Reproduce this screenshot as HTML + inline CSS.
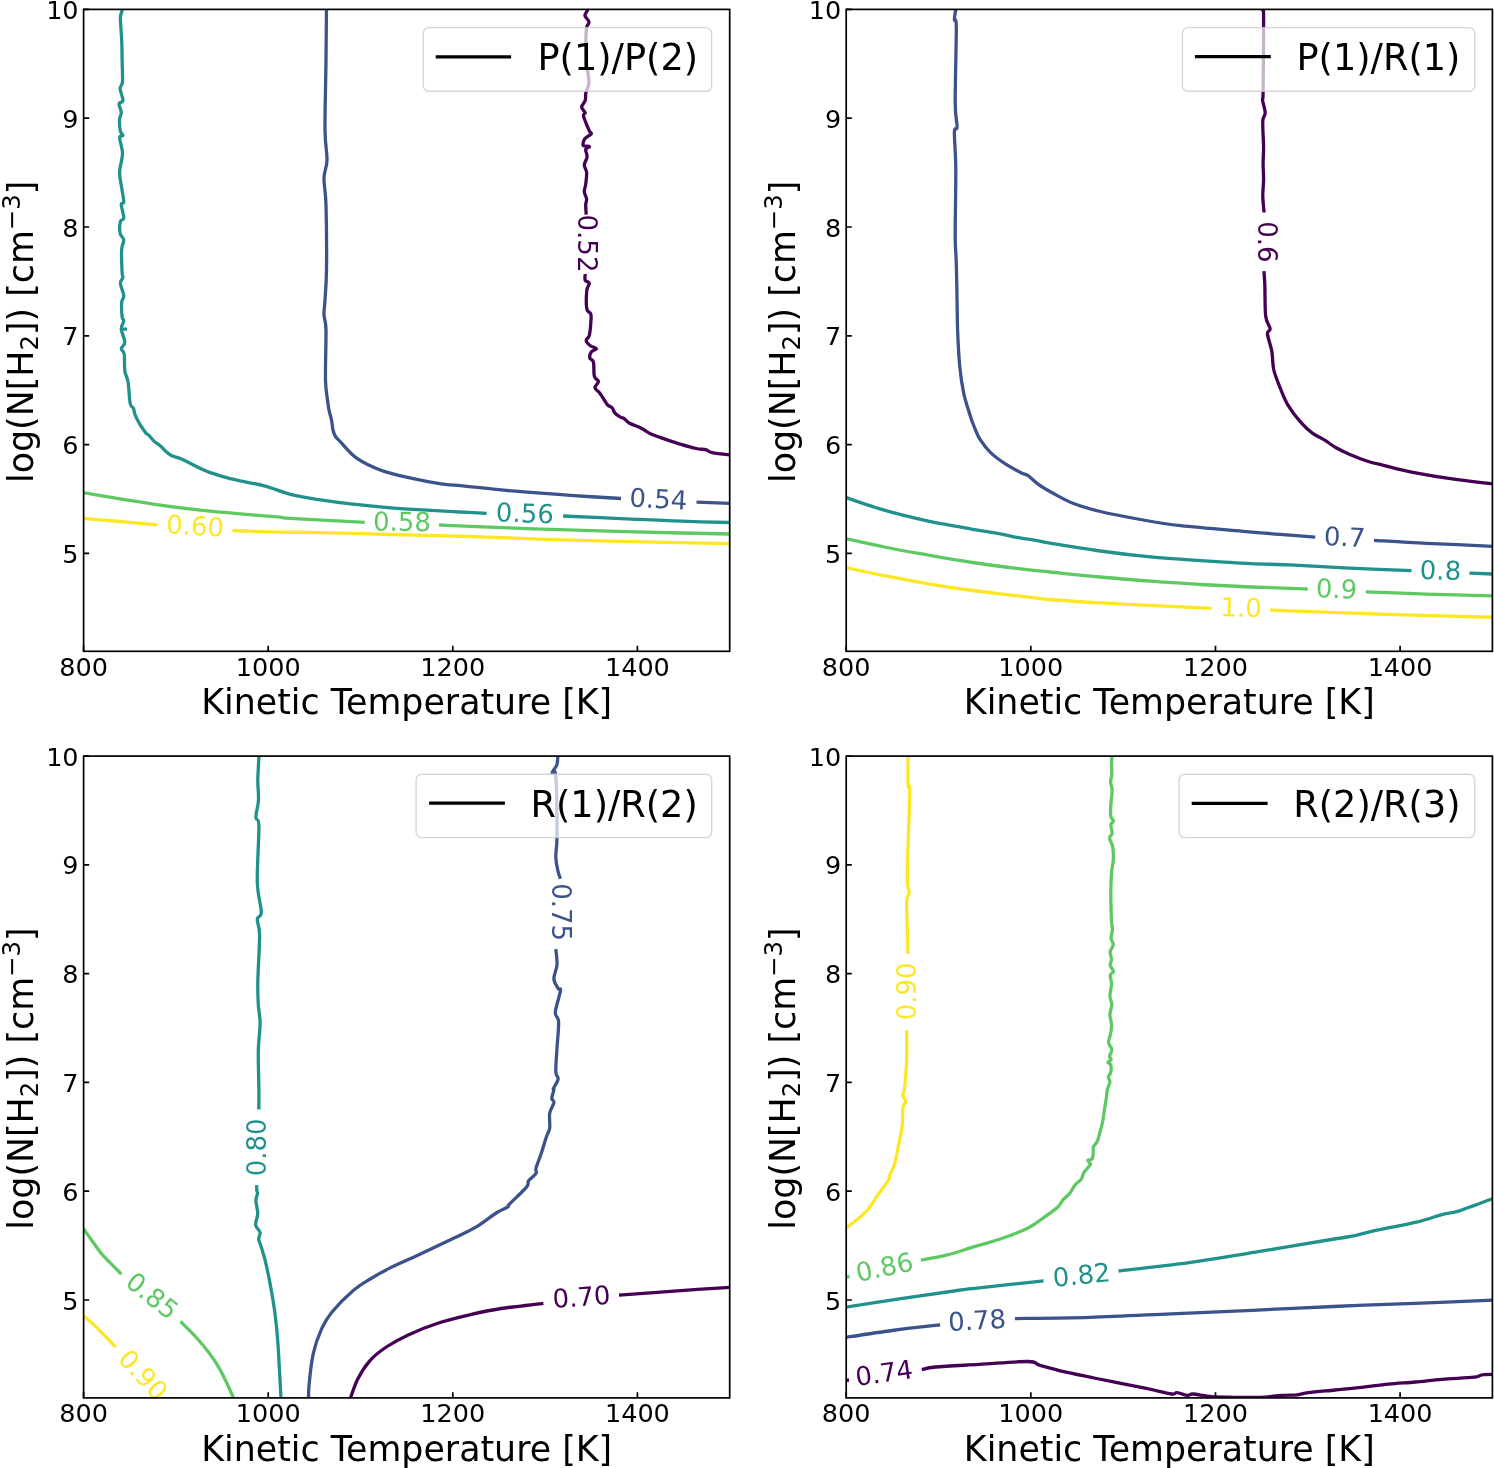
<!DOCTYPE html>
<html><head><meta charset="utf-8"><title>Contour ratios</title>
<style>html,body{margin:0;padding:0;background:#fff;}svg{display:block;}text{font-family:'DejaVu Sans', 'Liberation Sans', sans-serif;}</style>
</head><body>
<svg width="1494" height="1468" viewBox="0 0 1494 1468">
<rect x="0" y="0" width="1494" height="1468" fill="#fff"/>
<defs>
<clipPath id="cp1"><rect x="83.6" y="9.4" width="646.1" height="641.9"/></clipPath>
<clipPath id="cp2"><rect x="846.2" y="9.4" width="646.2" height="641.9"/></clipPath>
<clipPath id="cp3"><rect x="83.6" y="756.1" width="646.1" height="641.8"/></clipPath>
<clipPath id="cp4"><rect x="846.2" y="756.1" width="646.2" height="641.8"/></clipPath>
</defs>
<g clip-path="url(#cp1)" fill="none" stroke-width="3.3" stroke-linejoin="round" stroke-linecap="butt">
<path stroke="#21918c" d="M122.1,5C122.1,5.9 122.4,8.2 122.1,10.2C121.8,12.2 120.6,14.4 120.4,17C120.2,19.6 120.6,21.2 120.8,25.5C121,29.8 121.6,36.9 121.8,42.6C122,48.3 122,53.1 122.1,59.6C122.2,66.1 122.8,76.9 122.5,81.7C122.2,86.5 120,85.5 120.1,88.6C120.2,91.7 123.2,98 123,100.5C122.8,103 119.3,101.9 119,103.9C118.7,105.9 121.2,109.9 121.3,112.4C121.4,115 119.8,116.1 119.6,119.2C119.4,122.3 119.8,128.5 120.4,131.2C121,133.9 123.1,134.3 123,135.4C122.9,136.5 119.7,135 119.6,138C119.5,141 122.5,147.6 122.5,153.3C122.5,159 119.8,166.3 119.6,172C119.4,177.7 120.9,182.3 121.6,187.3C122.3,192.3 123.8,199 123.8,201.8C123.8,204.7 121.3,201.7 121.3,204.4C121.3,207.1 123.9,215.2 123.8,218C123.7,220.8 121,218.8 120.4,221.4C119.8,224 119.5,230.2 120.1,233.3C120.6,236.4 123.5,237.2 123.7,240C124,242.8 121.9,244.4 121.6,249.8C121.3,255.2 121.9,268.1 122.1,272.7C122.3,277.3 123.2,275.8 122.9,277.6C122.6,279.4 120.3,280.3 120.4,283.3C120.5,286.3 123.5,292.5 123.7,295.6C123.9,298.7 122,298.6 121.7,302.1C121.4,305.6 121.8,313.7 122.1,316.8C122.4,319.9 123.8,318.8 123.7,320.9C123.6,322.9 121.1,325.6 121.3,329.1C121.5,332.7 124.8,338.9 124.8,342.2C124.8,345.5 121.4,346.7 121.3,348.7C121.2,350.7 123.6,350.7 124.2,354.4C124.8,358.1 124.2,366.2 124.8,370.8C125.4,375.4 127.2,376.8 128.1,382.2C129,387.6 129.3,399.1 130.2,403.5C131.1,407.9 132.7,406.5 133.5,408.4C134.3,410.3 134,412.2 135.1,414.9C136.2,417.6 138.3,421.7 140.1,424.7C141.9,427.7 144.3,431.1 145.8,432.9C147.3,434.7 147.6,434 149,435.4C150.4,436.8 152.1,439.3 154,441.1C155.9,442.9 158.6,444.4 160.5,446C162.4,447.6 163.5,449.3 165.4,450.9C167.3,452.5 169.1,454.4 171.9,455.8C174.7,457.2 177.3,457.1 182,459.2C186.7,461.3 195.4,466 200.1,468.2C204.8,470.4 205.2,470.9 210.2,472.6C215.2,474.3 221.2,476.4 230.2,478.6C239.2,480.8 254.3,483.3 264.4,485.9C274.4,488.5 281.1,492 290.5,494.3C299.9,496.6 310.6,498.3 320.6,499.9C330.6,501.5 339,502.6 350.7,503.9C362.4,505.2 377.5,506.7 390.9,507.8C404.3,508.9 419.5,509.7 431,510.4C442.5,511.1 450.7,511.5 460,512C469.3,512.5 482.2,513.1 486.7,513.3"/>
<path stroke="#21918c" d="M563.1,516C573.5,516.5 606.1,517.9 625.7,518.8C645.3,519.7 662.7,520.6 680.9,521.2C699.1,521.8 726,522.4 735,522.6"/>
<path stroke="#21918c" d="M121.3,329.1 L127,329.1"/>
<path stroke="#3b528b" d="M326.5,5C326.4,14.2 326.2,39.2 326,60C325.8,80.8 324.8,113.3 325,130C325.2,146.7 327.2,152 327,160C326.8,168 324.2,170.5 324,178C323.8,185.5 325.6,189.7 326,205C326.4,220.3 326.7,254.2 326.5,270C326.3,285.8 325.4,292.5 325,300C324.6,307.5 323.8,310 324,315C324.2,320 325.8,319.2 326,330C326.2,340.8 325.2,368.3 325.5,380C325.8,391.7 326.9,395 327.5,400C328.1,405 328.3,406.7 329,410C329.7,413.3 330.8,416.7 331.5,420C332.2,423.3 332.3,427.2 333,430C333.7,432.8 334.2,434.5 335.5,436.5C336.8,438.5 337.2,438.5 340.7,442.1C344.2,445.7 350,453.5 356.7,458.2C363.4,462.9 371.8,466.9 380.8,470.2C389.9,473.5 400.9,475.9 411,478.2C421.1,480.5 432.9,482.7 441.1,483.9C449.3,485.1 447.6,484.4 460,485.6C472.4,486.8 496.8,489.6 515.2,491.2C533.6,492.8 552.8,494.2 570.4,495.4C588,496.6 612.6,498 621,498.5"/>
<path stroke="#3b528b" d="M696.5,502.2 L735,503.6"/>
<path stroke="#440154" d="M587.4,5C587.4,5.9 587.8,8.4 587.4,10.2C587,12 584.7,13.8 585,15.7C585.3,17.6 588.7,19.9 589,21.9C589.3,23.8 587.1,24.3 586.6,27.4C586.1,30.5 586,34.8 585.9,40.7C585.8,46.6 585.8,55.9 586.3,62.7C586.8,69.5 589,76.7 589,81.5C589,86.3 586.8,89.3 586.2,91.4C585.7,93.5 585.9,92.7 585.7,94.2C585.5,95.7 585.9,98.4 585.2,100.6C584.5,102.8 581.6,105.1 581.6,107.1C581.6,109.1 584.9,111.2 585.2,112.6C585.5,114 583.2,113.6 583.4,115.4C583.6,117.2 585.2,121 586.2,123.6C587.2,126.2 588.6,129.3 589.4,131C590.2,132.7 591.9,132.6 591.2,133.8C590.5,135 586.5,137 585.2,138.4C583.9,139.8 583.7,140.8 583.4,142C583.1,143.2 582.4,144.9 583.4,145.7C584.4,146.5 589,146 589.4,146.6C589.8,147.2 586.1,147.7 585.7,149.4C585.3,151.1 587.3,154.2 587.1,156.8C586.9,159.4 584.4,162.4 584.3,165C584.2,167.6 586.4,169.2 586.6,172.4C586.8,175.6 586.1,181.2 585.7,184.4C585.3,187.6 584.1,189.2 584.3,191.7C584.4,194.1 586.4,196.9 586.6,199.1C586.8,201.2 585.8,202 585.7,204.6C585.6,207.2 586.1,213 586.2,214.7"/>
<path stroke="#440154" d="M585.2,274.1C585.2,275.1 584.5,278.7 585.2,280.2C585.9,281.7 589,281.6 589.3,283.3C589.6,285 587.2,286.1 586.8,290.4C586.4,294.7 586.1,305 586.8,308.9C587.5,312.8 590.1,311.6 590.8,314C591.5,316.4 591,319.6 590.8,323.2C590.5,326.8 590.1,332.5 589.3,335.4C588.5,338.3 586,338.9 586.2,340.6C586.4,342.3 588.6,344.4 590.3,345.7C592,347 596.3,347.7 596.5,348.7C596.7,349.7 592.5,350.3 591.4,351.8C590.3,353.3 589.5,356.2 589.8,357.9C590.1,359.6 592.6,358.9 593.4,362C594.2,365.1 593.5,373.1 594.4,376.3C595.2,379.6 598.4,379.6 598.5,381.5C598.6,383.4 594.7,385.7 594.9,387.6C595.1,389.5 598,390.8 599.5,392.7C601,394.6 602.2,396.8 603.6,398.8C605,400.9 606.2,403.5 607.7,405C609.2,406.5 611.1,406.6 612.3,408C613.5,409.4 613.5,411.5 614.9,413.1C616.3,414.7 619.3,416.5 620.9,417.4C622.5,418.3 622.8,417.7 624.2,418.6C625.6,419.5 626.3,421.4 629.2,423C632.1,424.6 638.2,426.7 641.8,428.5C645.4,430.3 647.2,432.2 651,433.9C654.8,435.6 659.4,437.1 664.4,438.9C669.4,440.6 675.8,442.8 681.1,444.4C686.4,446 692,447.6 696.2,448.5C700.4,449.4 703.6,449.1 706.2,449.8C708.9,450.5 707.3,451.7 712.1,452.7C716.9,453.7 731.2,455.1 735,455.6"/>
<path stroke="#5ec962" d="M78,491.8C85,493 106.5,496.6 120.2,498.8C133.9,501 146.9,503.2 160.3,505.1C173.7,507 187.1,508.7 200.5,510.2C213.9,511.7 227.3,512.8 240.6,513.9C253.8,515 271.7,516.4 280,517.1C288.3,517.9 276.4,517.5 290.5,518.4C304.6,519.3 352.4,521.7 364.8,522.4"/>
<path stroke="#5ec962" d="M439.1,525C444.2,525.2 454.2,525.8 470,526.4C485.8,527 507.7,528 533.6,528.9C559.6,529.8 592.1,530.8 625.7,531.7C659.3,532.6 716.8,533.7 735,534.1"/>
<path stroke="#fde725" d="M78,518C85,518.6 106.9,520.4 120.2,521.5C133.5,522.6 151.4,524.3 157.6,524.9"/>
<path stroke="#fde725" d="M232.6,530.5C240.5,530.8 267,531.9 280,532.2C293,532.5 292.1,532 310.6,532.4C329.1,532.8 364.3,533.8 390.9,534.5C417.5,535.2 443.1,535.6 470,536.5C496.9,537.4 523,538.7 552,539.6C581,540.5 613.5,541.1 644,541.8C674.5,542.5 719.8,543.4 735,543.7"/>
</g>
<text transform="translate(587,243.5) rotate(90)" x="0" y="9.5" text-anchor="middle" font-size="26.0" fill="#440154">0.52</text>
<text transform="translate(658.4,498.6) rotate(3)" x="0" y="9.5" text-anchor="middle" font-size="26.0" fill="#3b528b">0.54</text>
<text transform="translate(524.9,512.8) rotate(2.2)" x="0" y="9.5" text-anchor="middle" font-size="26.0" fill="#21918c">0.56</text>
<text transform="translate(402,521.4) rotate(0.8)" x="0" y="9.5" text-anchor="middle" font-size="26.0" fill="#5ec962">0.58</text>
<text transform="translate(195.2,525.5) rotate(3.3)" x="0" y="9.5" text-anchor="middle" font-size="26.0" fill="#fde725">0.60</text>
<path d="M83.6,651.3V645.7M268.2,651.3V645.7M452.8,651.3V645.7M637.4,651.3V645.7M83.6,553.4H89.2M83.6,444.6H89.2M83.6,335.8H89.2M83.6,227H89.2M83.6,118.2H89.2M83.6,9.4H89.2" stroke="#000" stroke-width="1.7" fill="none"/>
<rect x="83.6" y="9.4" width="646.1" height="641.9" fill="none" stroke="#000" stroke-width="1.7" stroke-linejoin="miter"/>
<text x="83.6" y="675.8" text-anchor="middle" font-size="25.5">800</text>
<text x="268.2" y="675.8" text-anchor="middle" font-size="25.5">1000</text>
<text x="452.8" y="675.8" text-anchor="middle" font-size="25.5">1200</text>
<text x="637.4" y="675.8" text-anchor="middle" font-size="25.5">1400</text>
<text x="78.6" y="562.9" text-anchor="end" font-size="25.5">5</text>
<text x="78.6" y="454.1" text-anchor="end" font-size="25.5">6</text>
<text x="78.6" y="345.3" text-anchor="end" font-size="25.5">7</text>
<text x="78.6" y="236.5" text-anchor="end" font-size="25.5">8</text>
<text x="78.6" y="127.7" text-anchor="end" font-size="25.5">9</text>
<text x="78.6" y="18.9" text-anchor="end" font-size="25.5">10</text>
<text x="406.7" y="714.3" text-anchor="middle" font-size="34.8">Kinetic Temperature [K]</text>
<text transform="translate(32.5,331.8) rotate(-90)" x="0" y="0" text-anchor="middle" font-size="34.8">log(N[H<tspan font-size="24.4" dy="5">2</tspan><tspan dy="-5">]) [cm</tspan><tspan font-size="24.4" dy="-12.7">−3</tspan><tspan dy="12.7">]</tspan></text>
<rect x="423.3" y="27.6" width="288.3" height="63.7" rx="5.6" ry="5.6" fill="#fff" fill-opacity="0.7" stroke="#cccccc" stroke-opacity="0.8" stroke-width="1.4"/>
<line x1="435.7" y1="56.8" x2="511.1" y2="56.8" stroke="#000" stroke-width="3.3"/>
<text x="537.5" y="70.2" font-size="36.7">P(1)/P(2)</text>
<g clip-path="url(#cp2)" fill="none" stroke-width="3.3" stroke-linejoin="round" stroke-linecap="butt">
<path stroke="#3b528b" d="M955.8,5C955.8,5.7 956,6.6 955.8,9C955.6,11.4 954.3,16.6 954.4,19.7C954.5,22.8 956.2,13.9 956.3,27.7C956.4,41.5 955.1,86.2 955.2,102.7C955.3,119.2 957.2,121.9 957.1,126.8C957,131.7 954.6,125.1 954.4,132.2C954.2,139.3 955.7,152.2 955.8,169.6C955.9,187 955.1,221 955.2,236.6C955.3,252.2 956,252.2 956.3,263.4C956.6,274.5 956.9,292.4 957.1,303.5C957.3,314.6 957.2,319.4 957.6,330C958,340.6 958.8,356.3 959.8,366.9C960.8,377.5 962.2,386.1 963.8,393.7C965.4,401.3 967.6,407.2 969.2,412.4C970.8,417.6 971.7,420.5 973.5,425C975.3,429.5 977,434.6 979.9,439.2C982.8,443.8 986.1,448.4 990.6,452.6C995.1,456.9 1001.2,461.2 1006.6,464.7C1012,468.2 1019.1,471.7 1022.7,473.5C1026.3,475.3 1025.4,473.7 1028.1,475.6C1030.8,477.5 1034.8,481.8 1038.8,484.7C1042.8,487.6 1046.4,489.7 1052.2,492.8C1058,495.9 1065.6,500.4 1073.6,503.5C1081.6,506.6 1089.1,508.8 1100.3,511.5C1111.5,514.2 1127.1,517.1 1140.5,519.5C1153.9,521.9 1163.1,523.7 1180.7,525.7C1198.3,527.7 1227.8,530 1246,531.6C1264.2,533.2 1278.5,534.2 1290,535.1C1301.5,536 1311.1,536.8 1315.3,537.1"/>
<path stroke="#3b528b" d="M1374,540.3C1382.8,540.8 1405.8,542.3 1426.5,543.3C1447.2,544.3 1486.1,546 1498,546.5"/>
<path stroke="#440154" d="M1262.5,5C1262.5,5.8 1262.3,7.9 1262.5,9.8C1262.7,11.7 1263.5,2.7 1263.6,16.3C1263.7,29.9 1263.3,77.6 1263.1,91.5C1262.9,105.4 1262.2,96.2 1262.5,99.7C1262.8,103.2 1265.2,109.2 1265.2,112.8C1265.2,116.3 1263.1,115.3 1262.8,121C1262.5,126.7 1263.5,140 1263.6,147.1C1263.6,154.2 1263.1,158.1 1263.1,163.5C1263.1,168.9 1263.6,174.4 1263.6,179.8C1263.5,185.2 1262.7,190.8 1262.8,196.2C1262.9,201.6 1263.9,209.8 1264.1,212.5"/>
<path stroke="#440154" d="M1263.9,271.1C1264.1,273.3 1264.5,276.9 1264.8,284.4C1265.1,291.9 1264.8,308.9 1265.7,316.3C1266.6,323.7 1269.8,325.8 1270.1,328.7C1270.4,331.6 1267.2,330.1 1267.5,334C1267.8,337.9 1270.9,345.9 1271.9,351.8C1272.9,357.7 1272.4,363.6 1273.7,369.5C1275,375.4 1277.6,381.3 1279.9,387.2C1282.2,393.1 1284.3,399 1287.8,404.9C1291.3,410.8 1296.9,418 1301.1,422.7C1305.2,427.4 1308.7,430.4 1312.7,433.3C1316.7,436.2 1321.3,438 1325.1,440.4C1328.9,442.8 1331.6,445.1 1335.7,447.5C1339.8,449.9 1344.6,452.2 1349.9,454.5C1355.2,456.8 1361.6,459.3 1367.6,461.2C1373.5,463.1 1378,463.9 1385.6,465.8C1393.1,467.7 1401.5,470.1 1412.9,472.3C1424.3,474.5 1439.6,477.1 1453.8,479.1C1468,481.1 1490.6,483.5 1498,484.4"/>
<path stroke="#21918c" d="M840,495.5C847.4,497.9 869.5,505.9 884.2,510.2C898.9,514.5 915.8,518.4 928.4,521.2C941,524 952.6,525.4 960,526.8C967.4,528.1 966.2,528.2 972.5,529.3C978.8,530.4 990.1,532 997.5,533.4C1004.9,534.8 1009.8,536.1 1016.7,537.4C1023.6,538.6 1033.2,539.9 1038.7,540.9C1044.2,541.9 1039.8,541.5 1050,543.2C1060.2,544.9 1083.5,548.7 1100.2,551C1116.9,553.3 1133.7,555.3 1150.4,556.9C1167.1,558.5 1183.9,559.5 1200.6,560.6C1217.3,561.7 1235.9,562.9 1250.8,563.6C1265.7,564.3 1274.4,564.2 1290,564.9C1305.6,565.6 1324.3,566.9 1344.6,567.9C1364.8,568.9 1400.3,570.1 1411.5,570.6"/>
<path stroke="#21918c" d="M1469.5,573.1 L1498,574.2"/>
<path stroke="#5ec962" d="M840,537.3C847.4,538.9 869.5,544 884.2,547C898.9,550 913.7,552.5 928.4,555.1C943.1,557.7 957.8,560.3 972.5,562.5C987.2,564.7 1003.8,566.8 1016.7,568.4C1029.6,570 1036.1,570.6 1050,572C1063.9,573.4 1083.5,575.5 1100.2,577C1116.9,578.5 1133.7,580 1150.4,581.2C1167.1,582.5 1183.9,583.5 1200.6,584.5C1217.3,585.5 1235.9,586.4 1250.8,587C1265.7,587.6 1280.5,588 1290,588.3C1299.5,588.6 1304.8,588.9 1307.7,589"/>
<path stroke="#5ec962" d="M1365.8,591.8C1375.9,592.2 1404.5,593.4 1426.5,594.1C1448.5,594.8 1486.1,595.7 1498,596"/>
<path stroke="#fde725" d="M840,566.3C847.4,567.9 869.5,572.8 884.2,575.7C898.9,578.6 913.7,581.3 928.4,583.8C943.1,586.3 957.8,588.5 972.5,590.5C987.2,592.5 1003.8,594.1 1016.7,595.6C1029.6,597.1 1036.1,598.3 1050,599.5C1063.9,600.7 1083.5,601.9 1100.2,602.9C1116.9,603.9 1131.9,604.5 1150.4,605.4C1169,606.3 1201.3,607.9 1211.5,608.4"/>
<path stroke="#fde725" d="M1270,610.1C1273.3,610.2 1270.7,610.2 1290,610.9C1309.3,611.6 1350.9,613.2 1385.6,614.3C1420.3,615.4 1479.3,616.9 1498,617.4"/>
</g>
<text transform="translate(1267.5,241.9) rotate(90)" x="0" y="9.5" text-anchor="middle" font-size="26.0" fill="#440154">0.6</text>
<text transform="translate(1344.6,536.5) rotate(3)" x="0" y="9.5" text-anchor="middle" font-size="26.0" fill="#3b528b">0.7</text>
<text transform="translate(1440.5,570) rotate(1.5)" x="0" y="9.5" text-anchor="middle" font-size="26.0" fill="#21918c">0.8</text>
<text transform="translate(1336.7,588.4) rotate(2.8)" x="0" y="9.5" text-anchor="middle" font-size="26.0" fill="#5ec962">0.9</text>
<text transform="translate(1241.2,607.1) rotate(1.7)" x="0" y="9.5" text-anchor="middle" font-size="26.0" fill="#fde725">1.0</text>
<path d="M846.2,651.3V645.7M1030.8,651.3V645.7M1215.5,651.3V645.7M1400.1,651.3V645.7M846.2,553.4H851.8M846.2,444.6H851.8M846.2,335.8H851.8M846.2,227H851.8M846.2,118.2H851.8M846.2,9.4H851.8" stroke="#000" stroke-width="1.7" fill="none"/>
<rect x="846.2" y="9.4" width="646.2" height="641.9" fill="none" stroke="#000" stroke-width="1.7" stroke-linejoin="miter"/>
<text x="846.2" y="675.8" text-anchor="middle" font-size="25.5">800</text>
<text x="1030.8" y="675.8" text-anchor="middle" font-size="25.5">1000</text>
<text x="1215.5" y="675.8" text-anchor="middle" font-size="25.5">1200</text>
<text x="1400.1" y="675.8" text-anchor="middle" font-size="25.5">1400</text>
<text x="841.2" y="562.9" text-anchor="end" font-size="25.5">5</text>
<text x="841.2" y="454.1" text-anchor="end" font-size="25.5">6</text>
<text x="841.2" y="345.3" text-anchor="end" font-size="25.5">7</text>
<text x="841.2" y="236.5" text-anchor="end" font-size="25.5">8</text>
<text x="841.2" y="127.7" text-anchor="end" font-size="25.5">9</text>
<text x="841.2" y="18.9" text-anchor="end" font-size="25.5">10</text>
<text x="1169.3" y="714.3" text-anchor="middle" font-size="34.8">Kinetic Temperature [K]</text>
<text transform="translate(795.1,331.8) rotate(-90)" x="0" y="0" text-anchor="middle" font-size="34.8">log(N[H<tspan font-size="24.4" dy="5">2</tspan><tspan dy="-5">]) [cm</tspan><tspan font-size="24.4" dy="-12.7">−3</tspan><tspan dy="12.7">]</tspan></text>
<rect x="1182.4" y="27.6" width="292.3" height="63.7" rx="5.6" ry="5.6" fill="#fff" fill-opacity="0.7" stroke="#cccccc" stroke-opacity="0.8" stroke-width="1.4"/>
<line x1="1194.9" y1="56.7" x2="1270.8" y2="56.7" stroke="#000" stroke-width="3.3"/>
<text x="1296.5" y="70.2" font-size="36.7">P(1)/R(1)</text>
<g clip-path="url(#cp3)" fill="none" stroke-width="3.3" stroke-linejoin="round" stroke-linecap="butt">
<path stroke="#21918c" d="M258.9,750C258.9,751.2 259.1,752 258.9,757C258.7,762 257.9,772.9 257.8,780.1C257.7,787.3 258.8,793.8 258.5,800C258.2,806.2 255.8,812.8 255.9,817.2C256,821.6 258.7,815.6 258.9,826.4C259.1,837.2 256.9,867.7 257.3,882C257.7,896.3 261.3,905.9 261.3,912.1C261.3,918.3 257.6,915.2 257.3,919.1C257,923 259.5,924.9 259.6,935.3C259.7,945.7 258,970 257.8,981.6C257.6,993.2 257.9,997.8 258.3,1004.7C258.7,1011.7 260.1,1015.6 260.1,1023.3C260.1,1031 258.5,1040 258.3,1051.1C258.1,1062.2 258.8,1080.3 258.9,1090C259,1099.7 258.8,1106.2 258.8,1109.4"/>
<path stroke="#21918c" d="M256.6,1185.2C256.7,1186.2 256.7,1189.8 256.9,1191.2C257.1,1192.6 257.8,1192 257.6,1193.5C257.4,1195 255.9,1197.5 255.9,1200.2C255.9,1203 257.1,1207.5 257.4,1210C257.7,1212.5 257.9,1212.7 257.6,1215.2C257.3,1217.7 255.3,1222.1 255.7,1225C256.1,1227.9 259.6,1230.1 260.1,1232.5C260.6,1234.9 258.5,1236.7 258.7,1239.2C258.9,1241.7 260.4,1244.2 261.4,1247.5C262.4,1250.8 263.6,1254.3 264.7,1258.7C265.8,1263.1 267,1268.6 268.1,1273.7C269.2,1278.8 270,1283.4 271.1,1289.4C272.2,1295.5 273.4,1301.3 274.5,1310C275.6,1318.7 276.7,1325.9 277.8,1341.6C278.9,1357.3 280.7,1393.6 281.3,1404"/>
<path stroke="#3b528b" d="M558.1,750C557.9,752.4 558,760.5 557,764.3C556,768.1 552.4,770.7 552.2,772.7C552,774.7 555,765.7 555.8,776.2C556.6,786.7 557,822.3 557,835.8C557,849.3 555.6,851.3 555.8,857.3C556,863.3 557.3,868 558.1,871.6C558.9,875.2 560.1,877.6 560.5,878.8"/>
<path stroke="#3b528b" d="M555.8,949.1C556,951.7 557.3,959.6 557,964.6C556.7,969.6 553.7,974.9 553.9,978.9C554.1,982.9 557,986.4 558.1,988.4C559.2,990.4 561,986.8 560.5,990.8C560,994.8 555.6,1007.1 555.3,1012.3C555,1017.5 558.3,1015.8 558.6,1021.8C558.9,1027.8 557.5,1039.7 557,1048C556.5,1056.3 555.6,1066.7 555.8,1071.9C556,1077.1 558.5,1076.2 558.1,1079C557.7,1081.8 554.1,1086.8 553.4,1088.6C552.7,1090.4 554.2,1088.4 553.9,1090C553.6,1091.6 551.8,1096.3 551.8,1098.4C551.8,1100.5 554.2,1100.2 553.9,1102.7C553.5,1105.2 550.4,1109 549.7,1113.2C549,1117.4 550.2,1124.1 549.7,1128C549.2,1131.9 547.9,1132.3 546.5,1136.5C545.1,1140.7 543,1148 541.3,1153.3C539.5,1158.6 536.9,1164.8 536,1168.1C535.1,1171.4 537.2,1171.3 536,1173.4C534.8,1175.5 530.2,1178.5 528.6,1180.8C527,1183.1 529.7,1183.2 526.5,1187.1C523.3,1191 512.8,1200.7 509.6,1204C506.4,1207.3 509.6,1205.8 507.5,1207.2C505.4,1208.6 502.2,1209.2 496.9,1212.5C491.6,1215.8 482.8,1223 475.8,1227.2C468.8,1231.4 464.6,1233 454.7,1237.8C444.8,1242.6 427.6,1250.7 416.7,1255.8C405.8,1260.9 396.9,1264.5 389.2,1268.4C381.4,1272.3 376.2,1275.3 370.2,1279C364.2,1282.7 359.6,1285.1 353.3,1290.6C347,1296 337.5,1305.4 332.2,1311.7C326.9,1318 324.9,1321.6 321.7,1328.6C318.5,1335.6 315.3,1344.4 313.2,1353.9C311.1,1363.4 309.8,1377.2 309,1385.6C308.2,1393.9 308.6,1400.9 308.5,1404"/>
<path stroke="#440154" d="M348.5,1404C350,1399.9 354,1386.6 357.6,1379.3C361.2,1372 365.3,1365.8 370.2,1360.3C375.1,1354.8 380.8,1350.7 387.1,1346.5C393.4,1342.3 399.8,1338.8 408.2,1334.9C416.6,1331 427.6,1326.6 437.8,1323.3C448,1320 458.9,1317.4 469.5,1314.9C480.1,1312.4 488.8,1310.4 501.1,1308.5C513.4,1306.6 536.4,1304.2 543.4,1303.3"/>
<path stroke="#440154" d="M619,1295.2C627.6,1294.5 651.2,1292.7 670.5,1291.3C689.8,1289.9 724.2,1287.7 735,1287"/>
<path stroke="#5ec962" d="M78,1221.5C79,1222.8 81.8,1226.6 83.9,1229.4C86,1232.2 87.6,1234.6 90.4,1238.5C93.2,1242.4 97.5,1248.7 100.7,1252.7C103.9,1256.7 106.3,1258.8 109.8,1262.4C113.2,1266 119.5,1272.1 121.4,1274.1"/>
<path stroke="#5ec962" d="M180.5,1321.5C183,1324 190.7,1331.3 195.4,1336.5C200.1,1341.7 204.8,1347.2 208.8,1352.5C212.8,1357.8 216.4,1363.2 219.5,1368.6C222.6,1374 225.4,1380 227.6,1384.7C229.8,1389.4 231.5,1393.5 232.9,1396.7C234.3,1399.9 235.5,1402.8 236,1404"/>
<path stroke="#fde725" d="M78,1311C79,1311.9 81.4,1314 83.9,1316.2C86.4,1318.4 89.2,1320.5 92.9,1323.9C96.6,1327.4 102.1,1333 105.9,1336.9C109.7,1340.8 114,1345.5 115.6,1347.2"/>
</g>
<text transform="translate(256.5,1147.3) rotate(-90)" x="0" y="9.5" text-anchor="middle" font-size="26.0" fill="#21918c">0.80</text>
<text transform="translate(561.8,912.1) rotate(90)" x="0" y="9.5" text-anchor="middle" font-size="26.0" fill="#3b528b">0.75</text>
<text transform="translate(581.5,1296.5) rotate(-4.2)" x="0" y="9.5" text-anchor="middle" font-size="26.0" fill="#440154">0.70</text>
<text transform="translate(152.5,1295.4) rotate(38.7)" x="0" y="9.5" text-anchor="middle" font-size="26.0" fill="#5ec962">0.85</text>
<text transform="translate(143.4,1374.4) rotate(47)" x="0" y="9.5" text-anchor="middle" font-size="26.0" fill="#fde725">0.90</text>
<path d="M83.6,1397.9V1392.3M268.2,1397.9V1392.3M452.8,1397.9V1392.3M637.4,1397.9V1392.3M83.6,1300H89.2M83.6,1191.2H89.2M83.6,1082.4H89.2M83.6,973.7H89.2M83.6,864.9H89.2M83.6,756.1H89.2" stroke="#000" stroke-width="1.7" fill="none"/>
<rect x="83.6" y="756.1" width="646.1" height="641.8" fill="none" stroke="#000" stroke-width="1.7" stroke-linejoin="miter"/>
<text x="83.6" y="1422.4" text-anchor="middle" font-size="25.5">800</text>
<text x="268.2" y="1422.4" text-anchor="middle" font-size="25.5">1000</text>
<text x="452.8" y="1422.4" text-anchor="middle" font-size="25.5">1200</text>
<text x="637.4" y="1422.4" text-anchor="middle" font-size="25.5">1400</text>
<text x="78.6" y="1309.5" text-anchor="end" font-size="25.5">5</text>
<text x="78.6" y="1200.7" text-anchor="end" font-size="25.5">6</text>
<text x="78.6" y="1091.9" text-anchor="end" font-size="25.5">7</text>
<text x="78.6" y="983.2" text-anchor="end" font-size="25.5">8</text>
<text x="78.6" y="874.4" text-anchor="end" font-size="25.5">9</text>
<text x="78.6" y="765.6" text-anchor="end" font-size="25.5">10</text>
<text x="406.7" y="1460.9" text-anchor="middle" font-size="34.8">Kinetic Temperature [K]</text>
<text transform="translate(32.5,1078.5) rotate(-90)" x="0" y="0" text-anchor="middle" font-size="34.8">log(N[H<tspan font-size="24.4" dy="5">2</tspan><tspan dy="-5">]) [cm</tspan><tspan font-size="24.4" dy="-12.7">−3</tspan><tspan dy="12.7">]</tspan></text>
<rect x="416.1" y="774.3" width="295.6" height="63.3" rx="5.6" ry="5.6" fill="#fff" fill-opacity="0.7" stroke="#cccccc" stroke-opacity="0.8" stroke-width="1.4"/>
<line x1="429.1" y1="803.2" x2="504.9" y2="803.2" stroke="#000" stroke-width="3.3"/>
<text x="530.5" y="816.9" font-size="36.7">R(1)/R(2)</text>
<g clip-path="url(#cp4)" fill="none" stroke-width="3.3" stroke-linejoin="round" stroke-linecap="butt">
<path stroke="#fde725" d="M908.1,750C908.1,751.2 908.1,751.2 908.1,757.2C908.1,763.2 907.8,780.2 908.1,785.8C908.4,791.3 909.8,780.6 909.8,790.5C909.8,800.4 908.5,830.3 908.1,845.4C907.7,860.5 907.2,873.1 907.4,881.1C907.6,889.1 909.2,889.5 909.1,893.1C909,896.7 906.9,892.5 906.7,902.6C906.5,912.7 907.9,945.4 908.1,953.9"/>
<path stroke="#fde725" d="M906.7,1030.2C906.7,1035.2 907,1051.1 906.7,1060C906.4,1068.9 905.4,1078.8 905,1083.8C904.6,1088.8 904.8,1088 904.4,1090C904,1092 902.7,1093.8 902.9,1095.7C903.1,1097.6 905.8,1099.4 905.8,1101.4C905.8,1103.4 903.5,1103.8 902.9,1107.9C902.3,1112 902.9,1119.7 902.2,1125.8C901.5,1131.9 900,1138 898.7,1144.4C897.4,1150.8 896,1159.2 894.4,1164.4C892.8,1169.6 890.4,1173.2 889.4,1175.8C888.4,1178.4 890.6,1176.8 888.6,1180.1C886.6,1183.4 880.5,1191.1 877.2,1195.9C873.9,1200.7 871.9,1204.8 868.6,1208.7C865.3,1212.6 862,1215.5 857.2,1219.5C852.4,1223.5 842.9,1230.3 840,1232.5"/>
<path stroke="#5ec962" d="M1112.1,750C1112.1,751 1112.2,754.1 1112.1,756.1C1112,758.1 1111.5,759.2 1111.5,762.3C1111.5,765.4 1112,771.2 1111.8,774.5C1111.6,777.8 1110.5,779.2 1110.6,781.9C1110.6,784.6 1112.1,786.6 1112.1,790.5C1112.1,794.4 1111,800.9 1110.8,805.2C1110.6,809.5 1110.3,813.6 1110.8,816.2C1111.2,818.9 1113.5,819.7 1113.5,821.1C1113.5,822.5 1111,822.8 1110.8,824.8C1110.6,826.8 1112.3,831.1 1112.1,833.4C1111.9,835.6 1109.5,836 1109.6,838.3C1109.7,840.5 1112.1,843.2 1112.7,846.9C1113.3,850.6 1113.5,856.1 1113.3,860.4C1113.1,864.7 1111.9,867.3 1111.5,872.6C1111.1,877.9 1110.9,886.1 1110.8,892.2C1110.7,898.3 1111,904.5 1111.1,909.4C1111.2,914.3 1111.3,918.3 1111.5,921.7C1111.7,925.1 1112.5,927 1112.4,929.8C1112.3,932.6 1110.9,935.9 1111.1,938.4C1111.2,940.9 1113.4,942.2 1113.3,944.5C1113.2,946.8 1110.5,949.4 1110.2,951.9C1109.9,954.4 1111.5,957 1111.5,959.2C1111.5,961.5 1109.9,963.4 1110.2,965.4C1110.5,967.4 1113.5,969.9 1113.5,971.5C1113.5,973.1 1110.5,973.2 1110.2,975.2C1109.9,977.2 1111.5,980.3 1111.5,983.8C1111.5,987.3 1109.9,992.5 1109.9,996C1110,999.5 1111.8,1001.5 1111.8,1004.6C1111.8,1007.7 1110,1011.1 1109.9,1014.4C1109.9,1017.7 1111.3,1021.1 1111.5,1024.2C1111.7,1027.3 1111.3,1029.7 1110.8,1032.8C1110.3,1035.9 1108.4,1039.8 1108.6,1042.6C1108.8,1045.4 1111.6,1047.2 1111.8,1049.4C1112,1051.7 1109.7,1054.4 1109.6,1056.1C1109.5,1057.8 1111.4,1058.8 1111.1,1059.8C1110.8,1060.8 1107.9,1061.4 1107.8,1062.2C1107.7,1063 1110.1,1063.1 1110.6,1064.7C1111.1,1066.3 1111.2,1070 1110.8,1072.1C1110.4,1074.1 1108.6,1075.4 1108.4,1077C1108.2,1078.6 1110.1,1079.9 1109.9,1081.9C1109.7,1083.9 1108,1086.6 1107.4,1089.2C1106.8,1091.8 1106.9,1094.2 1106.4,1097.5C1105.9,1100.8 1105.2,1104.7 1104.6,1108.7C1104,1112.7 1103.4,1117.9 1102.7,1121.5C1102,1125.1 1101.2,1127.5 1100.4,1130.4C1099.7,1133.3 1098.8,1136.7 1098.2,1138.7C1097.6,1140.7 1097.5,1141 1096.7,1142.4C1095.9,1143.8 1093.9,1145.4 1093.3,1146.9C1092.7,1148.4 1093.5,1149.4 1093.3,1151.4C1093.1,1153.4 1093.1,1157.5 1092.2,1158.9C1091.3,1160.3 1088.7,1159.5 1088.1,1160C1087.5,1160.5 1088.4,1161.2 1088.8,1161.9C1089.2,1162.7 1091.1,1162.8 1090.3,1164.5C1089.5,1166.2 1085.5,1170 1084,1172.4C1082.5,1174.8 1082.8,1177 1081.3,1179.1C1079.8,1181.2 1076.9,1182.7 1075,1185.1C1073.1,1187.5 1071.6,1191 1069.7,1193.4C1067.8,1195.8 1065.4,1197.1 1063.4,1199.4C1061.4,1201.7 1060.8,1204.2 1057.6,1207.2C1054.4,1210.2 1049,1213.8 1044.1,1217.3C1039.2,1220.8 1035.2,1224.5 1028.1,1228C1021,1231.5 1010.6,1235.4 1001.7,1238.5C992.8,1241.6 983.6,1244 974.5,1246.7C965.4,1249.4 956.2,1252.7 947.2,1254.9C938.2,1257.2 925.2,1259.3 920.8,1260.2"/>
<path stroke="#5ec962" d="M849.5,1276.3 L840,1278.5"/>
<path stroke="#21918c" d="M840,1308C851.6,1306.2 889.5,1300.4 909.6,1297.4C929.8,1294.4 949.3,1291.6 960.9,1290C972.5,1288.4 965.4,1289.3 979.2,1287.8C993,1286.3 1032.9,1282.1 1043.6,1280.9"/>
<path stroke="#21918c" d="M1118.5,1271C1128.6,1269.8 1155.8,1267.1 1179.1,1263.9C1202.4,1260.7 1231.8,1255.9 1258.2,1251.7C1284.6,1247.5 1321.5,1241.1 1337.3,1238.5C1353.1,1235.9 1346.6,1237.3 1353.2,1235.9C1359.8,1234.5 1366.4,1232.4 1376.9,1230.1C1387.5,1227.8 1405.5,1224.8 1416.5,1222.2C1427.5,1219.6 1435.8,1216.2 1442.8,1214.3C1449.8,1212.4 1449.4,1214 1458.6,1211.1C1467.8,1208.1 1491.4,1199 1498,1196.6"/>
<path stroke="#3b528b" d="M840,1338.3C848.7,1337 875.5,1332.7 892.2,1330.5C908.9,1328.3 932.1,1325.8 940.1,1324.9"/>
<path stroke="#3b528b" d="M1014.9,1318.6C1027.4,1318.4 1064,1318.1 1090,1317.3C1116,1316.5 1144,1315 1171.1,1313.8C1198.1,1312.6 1225.2,1311.5 1252.3,1310.3C1279.3,1309.1 1306.4,1307.7 1333.4,1306.5C1360.4,1305.3 1387.1,1304.4 1414.5,1303.3C1441.9,1302.2 1484.1,1300.5 1498,1300"/>
<path stroke="#440154" d="M840,1381.2 L849,1380"/>
<path stroke="#440154" d="M921.8,1369.6C924.1,1369.2 926.1,1367.9 935.7,1367C945.3,1366.1 963.8,1365.3 979.2,1364.4C994.6,1363.5 1017.9,1361.3 1028,1361.5C1038.2,1361.7 1033.7,1363.5 1040.1,1365.3C1046.5,1367.1 1057.2,1370.1 1066.2,1372.2C1075.2,1374.3 1084.9,1376.2 1094,1378C1103.1,1379.8 1111.9,1381.5 1120.8,1383.3C1129.7,1385.1 1139,1386.9 1147.5,1388.7C1156,1390.5 1166.7,1393.3 1171.6,1394C1176.5,1394.7 1174.3,1392.5 1177,1392.7C1179.7,1392.9 1185,1395.2 1187.7,1395.4C1190.4,1395.6 1189.1,1393.8 1193.1,1394C1197.1,1394.2 1205.1,1396.2 1211.8,1396.7C1218.5,1397.2 1225.2,1397.2 1233.2,1397.3C1241.2,1397.4 1252,1397.6 1260,1397.3C1268,1397 1275.2,1395.8 1281.4,1395.4C1287.7,1395 1293,1395.2 1297.5,1394.8C1302,1394.3 1302,1393.5 1308.2,1392.7C1314.5,1391.9 1326.1,1390.9 1335,1390C1343.9,1389.1 1352.8,1388.3 1361.7,1387.3C1370.6,1386.3 1379.6,1385 1388.5,1384.1C1397.4,1383.2 1406.4,1382.8 1415.3,1382C1424.2,1381.2 1432.3,1380.1 1442.1,1379.3C1451.9,1378.5 1467.5,1378 1474.2,1377.2C1480.9,1376.5 1478.2,1375.2 1482.2,1374.8C1486.2,1374.3 1495.4,1374.5 1498,1374.5"/>
</g>
<text transform="translate(906.3,991.4) rotate(-90)" x="0" y="9.5" text-anchor="middle" font-size="26.0" fill="#fde725">0.90</text>
<text transform="translate(884.3,1266.7) rotate(-12)" x="0" y="9.5" text-anchor="middle" font-size="26.0" fill="#5ec962">0.86</text>
<text transform="translate(1081.5,1274.6) rotate(-6)" x="0" y="9.5" text-anchor="middle" font-size="26.0" fill="#21918c">0.82</text>
<text transform="translate(977,1320) rotate(-3.6)" x="0" y="9.5" text-anchor="middle" font-size="26.0" fill="#3b528b">0.78</text>
<text transform="translate(884,1372.6) rotate(-7.9)" x="0" y="9.5" text-anchor="middle" font-size="26.0" fill="#440154">0.74</text>
<path d="M846.2,1397.9V1392.3M1030.8,1397.9V1392.3M1215.5,1397.9V1392.3M1400.1,1397.9V1392.3M846.2,1300H851.8M846.2,1191.2H851.8M846.2,1082.4H851.8M846.2,973.7H851.8M846.2,864.9H851.8M846.2,756.1H851.8" stroke="#000" stroke-width="1.7" fill="none"/>
<rect x="846.2" y="756.1" width="646.2" height="641.8" fill="none" stroke="#000" stroke-width="1.7" stroke-linejoin="miter"/>
<text x="846.2" y="1422.4" text-anchor="middle" font-size="25.5">800</text>
<text x="1030.8" y="1422.4" text-anchor="middle" font-size="25.5">1000</text>
<text x="1215.5" y="1422.4" text-anchor="middle" font-size="25.5">1200</text>
<text x="1400.1" y="1422.4" text-anchor="middle" font-size="25.5">1400</text>
<text x="841.2" y="1309.5" text-anchor="end" font-size="25.5">5</text>
<text x="841.2" y="1200.7" text-anchor="end" font-size="25.5">6</text>
<text x="841.2" y="1091.9" text-anchor="end" font-size="25.5">7</text>
<text x="841.2" y="983.2" text-anchor="end" font-size="25.5">8</text>
<text x="841.2" y="874.4" text-anchor="end" font-size="25.5">9</text>
<text x="841.2" y="765.6" text-anchor="end" font-size="25.5">10</text>
<text x="1169.3" y="1460.9" text-anchor="middle" font-size="34.8">Kinetic Temperature [K]</text>
<text transform="translate(795.1,1078.5) rotate(-90)" x="0" y="0" text-anchor="middle" font-size="34.8">log(N[H<tspan font-size="24.4" dy="5">2</tspan><tspan dy="-5">]) [cm</tspan><tspan font-size="24.4" dy="-12.7">−3</tspan><tspan dy="12.7">]</tspan></text>
<rect x="1179.1" y="774.3" width="295.6" height="63.3" rx="5.6" ry="5.6" fill="#fff" fill-opacity="0.7" stroke="#cccccc" stroke-opacity="0.8" stroke-width="1.4"/>
<line x1="1191.7" y1="803.3" x2="1267.6" y2="803.3" stroke="#000" stroke-width="3.3"/>
<text x="1293.3" y="816.9" font-size="36.7">R(2)/R(3)</text>
</svg>
</body></html>
